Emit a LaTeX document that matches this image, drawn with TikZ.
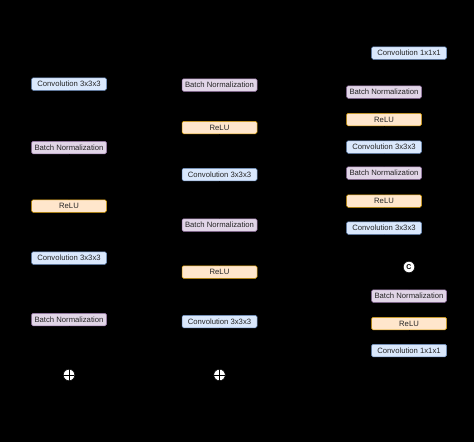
\documentclass[tikz,border=0pt]{standalone}
\usepackage{fontspec}
\setmainfont{Liberation Sans}
\begin{document}
\begin{tikzpicture}[x=1pt,y=-1pt,
  blk/.style={minimum width=75pt,minimum height=12.5pt,inner sep=0pt,rounded corners=1.5pt,line width=0.5pt,font=\fontsize{7.7}{8}\selectfont,text=black!85},
  conv/.style={blk,fill={rgb,255:red,218;green,232;blue,252},draw={rgb,255:red,108;green,142;blue,191}},
  bn/.style={blk,fill={rgb,255:red,225;green,213;blue,231},draw={rgb,255:red,150;green,115;blue,166}},
  relu/.style={blk,fill={rgb,255:red,255;green,230;blue,204},draw={rgb,255:red,215;green,155;blue,0}},
  opnode/.style={circle,fill=white,draw=black,line width=0.5pt,minimum size=11.5pt,inner sep=0pt},
  plusnode/.style={opnode,path picture={\draw[black,line width=0.8pt] (path picture bounding box.north) -- (path picture bounding box.south) (path picture bounding box.west) -- (path picture bounding box.east);}},
  arr/.style={draw=black,-latex,line width=0.6pt}]
\fill[black] (0,0) rectangle (474,442);
\useasboundingbox (0,0) rectangle (474,442);
% column 1
\node[conv] (a1) at (69,84) {Convolution 3x3x3};
\node[bn]   (a2) at (69,147.5) {Batch Normalization};
\node[relu] (a3) at (69,206) {ReLU};
\node[conv] (a4) at (69,258) {Convolution 3x3x3};
\node[bn]   (a5) at (69,319.5) {Batch Normalization};
\node[plusnode] (a6) at (69,375) {};
% column 2
\node[bn]   (b1) at (219.5,85) {Batch Normalization};
\node[relu] (b2) at (219.5,127.5) {ReLU};
\node[conv] (b3) at (219.5,174.5) {Convolution 3x3x3};
\node[bn]   (b4) at (219.5,225) {Batch Normalization};
\node[relu] (b5) at (219.5,272) {ReLU};
\node[conv] (b6) at (219.5,321.5) {Convolution 3x3x3};
\node[plusnode] (b7) at (219.5,375) {};
% column 3
\node[conv] (c1) at (409,53) {Convolution 1x1x1};
\node[bn]   (c2) at (384,92) {Batch Normalization};
\node[relu] (c3) at (384,119.5) {ReLU};
\node[conv] (c4) at (384,147) {Convolution 3x3x3};
\node[bn]   (c5) at (384,173) {Batch Normalization};
\node[relu] (c6) at (384,201) {ReLU};
\node[conv] (c7) at (384,228) {Convolution 3x3x3};
\node[opnode,font=\fontsize{7}{7}\selectfont\bfseries,text=black] (c8) at (409,267) {C};
\node[bn]   (c9) at (409,296) {Batch Normalization};
\node[relu] (c10) at (409,323.5) {ReLU};
\node[conv] (c11) at (409,350.5) {Convolution 1x1x1};
% connectors (black, as in the reference)
\path[arr] (a1) -- (a2);
\path[arr] (a2) -- (a3);
\path[arr] (a3) -- (a4);
\path[arr] (a4) -- (a5);
\path[arr] (a5) -- (a6);
\path[arr] (b1) -- (b2);
\path[arr] (b2) -- (b3);
\path[arr] (b3) -- (b4);
\path[arr] (b4) -- (b5);
\path[arr] (b5) -- (b6);
\path[arr] (b6) -- (b7);
\path[arr] (c2) -- (c3);
\path[arr] (c3) -- (c4);
\path[arr] (c4) -- (c5);
\path[arr] (c5) -- (c6);
\path[arr] (c6) -- (c7);
\path[arr] (c7) |- (c8);
\path[arr] (c1.east) -- ++(15,0) |- (c8.east);
\path[arr] (c8) -- (c9);
\path[arr] (c9) -- (c10);
\path[arr] (c10) -- (c11);
\end{tikzpicture}
\end{document}
